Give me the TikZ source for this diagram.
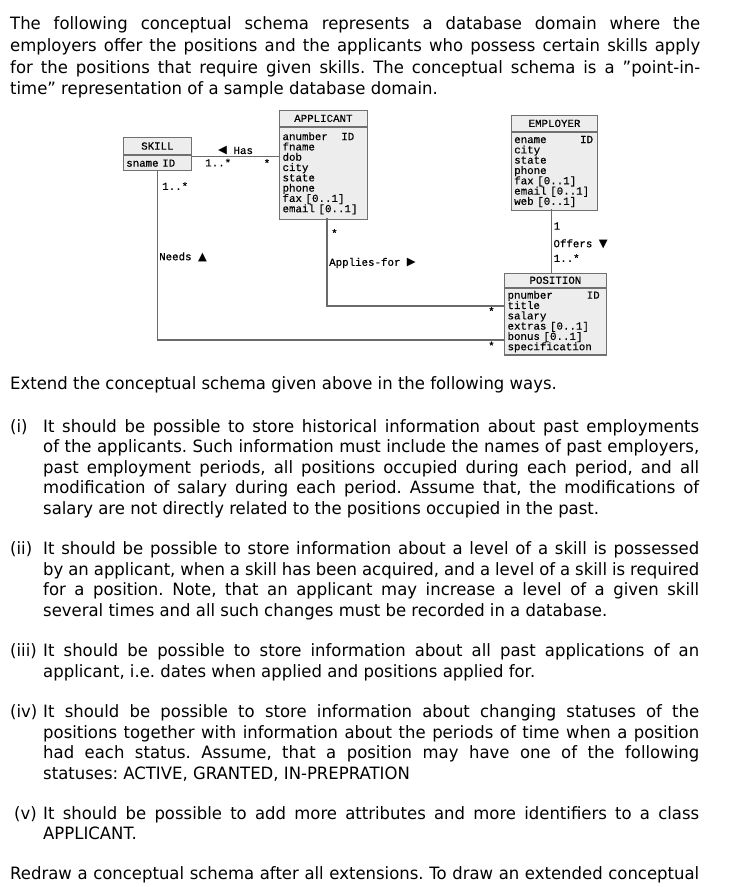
\documentclass[tikz,border=0pt]{standalone}
\usepackage{fontspec}
\setmainfont{DejaVu Sans}[FakeStretch=0.97]
\setmonofont{Liberation Mono}[FakeBold=0.4]
\newfontfamily\symfont{DejaVu Sans}
\usetikzlibrary{positioning}
\definecolor{boxfill}{HTML}{EDEDED}
\definecolor{boxline}{HTML}{707070}
\definecolor{linkline}{HTML}{6A6A6A}
\newcommand{\tri}[1]{{\symfont\fontsize{11.5}{11.5}\selectfont#1}}
\frenchspacing

\begin{document}
\begin{tikzpicture}[x=1pt,y=-1pt,
    class head/.style={draw=boxline,fill=boxfill,line width=1.1pt,inner sep=0pt,anchor=north west,font=\ttfamily\fontsize{10.8}{10.3}\selectfont},
    class body/.style={draw=boxline,fill=boxfill,line width=1.1pt,inner xsep=3pt,inner ysep=2pt,anchor=north west,align=left,font=\ttfamily\fontsize{10.8}{10.3}\selectfont},
    role text/.style={inner sep=0pt,anchor=west,font=\ttfamily\fontsize{10.8}{10.3}\selectfont},
    link/.style={draw=linkline,line width=1.1pt},
    para/.style={inner sep=0pt,anchor=base west,align=justify,font=\fontsize{17}{20.5}\selectfont},
    item no/.style={inner sep=0pt,anchor=base west,font=\fontsize{17}{20.5}\selectfont}]

    \fill[white] (0,0) rectangle (733,887);
    \useasboundingbox (0,0) rectangle (733,887);

    \node[para,text width=690pt,font=\fontsize{17}{21.8}\selectfont] (intro) at (10,29.5) {The following conceptual schema represents a database domain where the\linebreak
        employers offer the positions and the applicants who possess certain skills apply\linebreak
        for the positions that require given skills. The conceptual schema is a "point-in-\linebreak
        time" representation of a sample database domain.};

    % classes
    \node[class head,minimum width=68.3pt,minimum height=17pt] (skill) at (122.7,137) {SKILL};
    \node[class body,text width=62.3pt,minimum height=15pt] (skill-attr) at (skill.south west) {sname ID};

    \node[class head,minimum width=87.7pt,minimum height=15.7pt] (applicant) at (279,110) {APPLICANT};
    \node[class body,text width=81.7pt,minimum height=92pt] (applicant-attr) at (applicant.south west) {anumber\hspace{13.4pt}ID\\fname\\dob\\city\\state\\phone\\fax [0..1]\\email [0..1]};

    \node[class head,minimum width=86.6pt,minimum height=15.7pt] (employer) at (510.7,115) {EMPLOYER};
    \node[class body,text width=80.6pt,minimum height=78.3pt] (employer-attr) at (employer.south west) {ename\hspace{33.5pt}ID\\city\\state\\phone\\fax [0..1]\\email [0..1]\\web [0..1]};

    \node[class head,minimum width=101.7pt,minimum height=14pt] (position) at (504,272.7) {POSITION};
    \node[class body,text width=95.7pt,minimum height=66.6pt] (position-attr) at (position.south west) {pnumber\hspace{33.8pt}ID\\title\\salary\\extras [0..1]\\bonus [0..1]\\specification};

    % connector ends
    \coordinate (has-s) at (191,156.7);
    \coordinate (has-a) at (279,156.7);
    \coordinate (needs-p) at (504,340);
    \coordinate (applies-a) at (327,217.7);
    \coordinate (applies-p) at (504,306);
    \coordinate (offers-e) at (551.5,209);
    \coordinate (offers-p) at (551.5,272.7);

    \draw[link] (has-s) to (has-a);
    \draw[link] (skill-attr.south) |- (needs-p);
    \draw[link] (applies-a) |- (applies-p);
    \draw[link] (offers-e) to (offers-p);

    % association names and multiplicities
    \node[role text] (has-name) at (218,151) {\tri{◀} Has};
    \node[role text] (has-mult-s) at (205,162.5) {1..*};
    \node[role text] (has-mult-a) at (263.5,163) {*};

    \node[role text] (needs-mult-s) at (162,186) {1..*};
    \node[role text] (needs-name) at (159,257) {Needs \tri{▲}};
    \node[role text] (needs-mult-p) at (488,345.5) {*};

    \node[role text] (applies-mult-a) at (331,233) {*};
    \node[role text] (applies-name) at (329,263) {Applies-for \tri{▶}};
    \node[role text] (applies-mult-p) at (488,311) {*};

    \node[role text] (offers-mult-e) at (553.5,226) {1};
    \node[role text] (offers-name) at (553.3,244) {Offers \tri{▼}};
    \node[role text] (offers-mult-p) at (553.5,258) {1..*};

    % task text
    \node[para] (extend) at (10,389) {Extend the conceptual schema given above in the following ways.};

    \node[item no] (item1-no) at (10,432.3) {(i)};
    \node[para,text width=656pt] (item1) at (43,432.3) {It should be possible to store historical information about past employments\linebreak
        of the applicants. Such information must include the names of past employers,\linebreak
        past employment periods, all positions occupied during each period, and all\linebreak
        modification of salary during each period. Assume that, the modifications of\linebreak
        salary are not directly related to the positions occupied in the past.};

    \node[item no] (item2-no) at (10,554.7) {(ii)};
    \node[para,text width=656pt] (item2) at (43,554.7) {It should be possible to store information about a level of a skill is possessed\linebreak
        by an applicant, when a skill has been acquired, and a level of a skill is required\linebreak
        for a position. Note, that an applicant may increase a level of a given skill\linebreak
        several times and all such changes must be recorded in a database.};

    \node[item no] (item3-no) at (10,656.6) {(iii)};
    \node[para,text width=656pt] (item3) at (43,656.6) {It should be possible to store information about all past applications of an\linebreak
        applicant, i.e. dates when applied and positions applied for.};

    \node[item no] (item4-no) at (10,717.8) {(iv)};
    \node[para,text width=656pt] (item4) at (43,717.8) {It should be possible to store information about changing statuses of the\linebreak
        positions together with information about the periods of time when a position\linebreak
        had each status. Assume, that a position may have one of the following\linebreak
        statuses: ACTIVE, GRANTED, IN-PREPRATION};

    \node[item no] (item5-no) at (14,819.4) {(v)};
    \node[para,text width=656pt] (item5) at (43,819.4) {It should be possible to add more attributes and more identifiers to a class\linebreak
        APPLICANT.};

    \node[item no] (redraw) at (10,879.6) {\makebox[689pt][s]{Redraw a conceptual schema after all extensions. To draw an extended conceptual}};
\end{tikzpicture}
\end{document}
